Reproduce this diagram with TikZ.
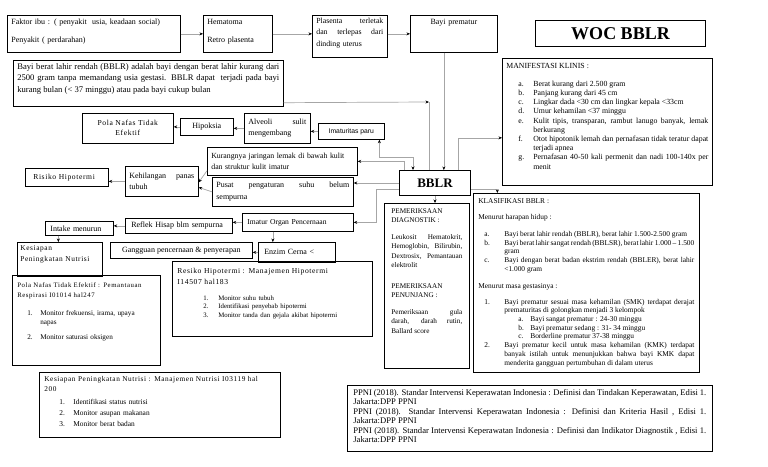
\documentclass[tikz,border=0pt]{standalone}
\usepackage{fontspec}
\setmainfont{Liberation Serif}
\setsansfont{Liberation Sans}
\newfontfamily\spacedfont[LetterSpace=8]{Liberation Serif}
\usetikzlibrary{arrows.meta}
\hyphenpenalty=10000
\exhyphenpenalty=10000
\tolerance=9999
\emergencystretch=10pt
% list line with hanging label
\newcommand{\wocitem}[3]{\par\leftskip=#2\noindent\hspace*{-#2}\hbox to #2{\hspace*{#1}#3\hfil}\ignorespaces}

\begin{document}
\begin{tikzpicture}[x=1pt, y=-1pt,
  box/.style={draw, line width=0.7pt, anchor=north west, inner sep=0pt,
    font=\fontsize{8}{9.5}\selectfont},
  tbox/.style={box, inner xsep=4pt, align=left},
  conn/.style={draw=gray!70, line width=0.7pt,
    -{Stealth[black, length=3.5pt, width=3pt]}},
  dconn/.style={conn, {Stealth[black, length=3.5pt, width=3pt]}-{Stealth[black, length=3.5pt, width=3pt]}},
  spaced/.style={font=\spacedfont\fontsize{7.6}{10}\selectfont}]
  \path[use as bounding box, fill=white] (0,0) rectangle (768,466);

  % top row
  \node[tbox, text width=165, text height=9, text depth=28] (faktor) at (7,15)
    {Faktor ibu : ( penyakit\ \ usia, keadaan social)\\[9pt]Penyakit ( perdarahan)};
  \node[tbox, text width=61, text height=9, text depth=28] (hemat) at (203,15)
    {Hematoma\\[9pt]Retro plasenta};
  \node[tbox, text width=67, text height=8, text depth=34,
    font=\fontsize{7.8}{11.5}\selectfont] (plas) at (312,15)
    {Plasenta\hfill terletak\\dan\hfill terlepas\hfill dari\\dinding uterus};
  \node[box, inner xsep=3pt, text width=81, align=center, text height=9, text depth=28] (prem) at (410,15)
    {Bayi prematur};
  \node[box, line width=1pt, minimum width=170, minimum height=26,
    font=\bfseries\fontsize{18}{20}\selectfont] (woc) at (535,20) {WOC BBLR};

  \node[tbox, align=justify, text width=262, text height=9, text depth=37,
    font=\fontsize{8.6}{11.5}\selectfont] (def) at (13,60)
    {Bayi berat lahir rendah (BBLR) adalah bayi dengan berat lahir kurang dari\linebreak 2500 gram tanpa memandang usia gestasi. BBLR dapat\ \ terjadi pada bayi\linebreak kurang bulan (< 37 minggu) atau pada bayi cukup bulan};

  \node[tbox, align=justify, text width=202, text height=10, text depth=117,
    font=\fontsize{7.8}{9.2}\selectfont] (manif) at (502,58)
    {MANIFESTASI KLINIS :\par\vspace{8.8pt}
     \wocitem{12pt}{27pt}{a.}Berat kurang dari 2.500 gram
     \wocitem{12pt}{27pt}{b.}Panjang kurang dari 45 cm
     \wocitem{12pt}{27pt}{c.}Lingkar dada <30 cm dan lingkar kepala <33cm
     \wocitem{12pt}{27pt}{d.}Umur kehamilan <37 minggu
     \wocitem{12pt}{27pt}{e.}Kulit tipis, transparan, rambut lanugo banyak, lemak berkurang
     \wocitem{12pt}{27pt}{f.}Otot hipotonik lemah dan pernafasan tidak teratur dapat terjadi apnea
     \wocitem{12pt}{27pt}{g.}Pernafasan 40-50 kali permenit dan nadi 100-140x per menit\par};

  % left branch
  \node[box, spaced, minimum width=91, minimum height=30, align=center] (pola) at (82,113)
    {Pola Nafas Tidak\\Efektif};
  \node[box, minimum width=53, minimum height=17] (hipok) at (180,118) {Hipoksia};
  \node[tbox, text width=58, minimum height=30, font=\fontsize{8}{11}\selectfont] (alv) at (244,113)
    {Alveoli\hfill sulit\\mengembang};
  \node[box, minimum width=66, minimum height=16, font=\sffamily\fontsize{6.8}{8}\selectfont] (imat) at (318,123)
    {Imaturitas paru};
  \node[tbox, text width=142, minimum height=28, font=\fontsize{7.8}{11}\selectfont] (kurang) at (207,147)
    {Kurangnya jaringan lemak di bawah kulit\\dan struktur kulit imatur};
  \node[tbox, text width=133, minimum height=29, font=\fontsize{8}{12}\selectfont] (pusat) at (212,177)
    {Pusat\hfill pengaturan\hfill suhu\hfill belum\\sempurna};
  \node[tbox, text width=65, minimum height=30, font=\fontsize{8}{11}\selectfont] (kehil) at (125,166)
    {Kehilangan\hfill panas\\tubuh};
  \node[tbox, spaced, inner xsep=8pt, text width=67, minimum height=18] (risiko) at (25,168)
    {Risiko Hipotermi};
  \node[box, line width=1pt, minimum width=71, minimum height=25,
    font=\bfseries\fontsize{13}{15}\selectfont] (bblr) at (399,170) {BBLR};

  \node[tbox, inner xsep=5pt, text width=101, minimum height=18, font=\fontsize{7.6}{9}\selectfont] (imorg) at (242,213)
    {Imatur Organ Pencernaan};
  \node[tbox, inner xsep=6pt, text width=95, minimum height=15] (reflek) at (125,218)
    {Reflek Hisap blm sempurna};
  \node[tbox, inner xsep=5pt, text width=58, minimum height=14] (intake) at (45,221)
    {Intake menurun};
  \node[tbox, spaced, inner xsep=3pt, text width=79, text height=8, text depth=26,
    font=\spacedfont\fontsize{7.4}{11}\selectfont] (kesiap) at (17,242)
    {Kesiapan\\Peningkatan Nutrisi};
  \node[box, minimum width=142, minimum height=16] (gangg) at (110,242)
    {Gangguan pencernaan \& penyerapan};
  \node[tbox, inner xsep=6pt, text width=65, minimum height=20] (enzim) at (258,242)
    {Enzim Cerna <};

  % intervensi
  \node[tbox, inner xsep=5pt, text width=190, text height=12, text depth=63,
    font=\spacedfont\fontsize{7.6}{11}\selectfont] (resiko) at (172,261)
    {Resiko Hipotermi : Manajemen Hipotermi\newline I14507 hal183
     \par\rmfamily\fontsize{6.8}{8.5}\selectfont\vspace{7.5pt}
     \wocitem{26pt}{41pt}{1.}Monitor suhu tubuh
     \wocitem{26pt}{41pt}{2.}Identifikasi penyebab hipotermi
     \wocitem{26pt}{41pt}{3.}Monitor tanda dan gejala akibat hipotermi\par};
  \node[tbox, inner xsep=5pt, text width=138, text height=12, text depth=78,
    font=\spacedfont\fontsize{6.8}{10}\selectfont] (polaint) at (12,275)
    {Pola Nafas Tidak Efektif : Pemantauan\newline Respirasi I01014 hal247
     \par\rmfamily\fontsize{7.2}{9}\selectfont\vspace{9pt}
     \wocitem{10pt}{23pt}{1.}Monitor frekuensi, irama, upaya\newline napas
     \par\vspace{6pt}
     \wocitem{10pt}{23pt}{2.}Monitor saturasi oksigen\par};
  \node[tbox, inner xsep=5pt, text width=231, text height=9, text depth=56,
    font=\spacedfont\fontsize{7.3}{10}\selectfont] (nutri) at (39,372)
    {Kesiapan Peningkatan Nutrisi : Manajemen Nutrisi I03119 hal\newline 200
     \par\rmfamily\fontsize{7.4}{11}\selectfont\vspace{2pt}
     \wocitem{15pt}{29pt}{1.}Identifikasi status nutrisi
     \wocitem{15pt}{29pt}{2.}Monitor asupan makanan
     \wocitem{15pt}{29pt}{3.}Monitor berat badan\par};

  % pemeriksaan dan klasifikasi
  \node[tbox, align=justify, inner xsep=7pt, text width=71, text height=10, text depth=155,
    font=\fontsize{7.2}{9.4}\selectfont] (periksa) at (384,203)
    {PEMERIKSAAN\newline DIAGNOSTIK :\par\vspace{7.2pt}
     Leukosit\ \ Hematokrit,\linebreak Hemoglobin, Bilirubin,\linebreak Dextrosix, Pemantauan\linebreak elektrolit
     \par\vspace{11.4pt}
     PEMERIKSAAN\newline PENUNJANG :\par\vspace{7.2pt}
     Pemeriksaan\ \ gula\linebreak darah, darah rutin,\linebreak Ballard score};
  \node[tbox, align=justify, inner xsep=5pt, text width=216, text height=10, text depth=169,
    font=\fontsize{7.4}{8.7}\selectfont] (klas) at (473,193)
    {KLASIFIKASI BBLR :\par\vspace{7.3pt}
     Menurut harapan hidup :\par\vspace{8.3pt}
     \wocitem{6pt}{26pt}{a.}Bayi berat lahir rendah (BBLR), berat lahir 1.500-2.500 gram
     \wocitem{6pt}{26pt}{b.}Bayi berat lahir sangat rendah (BBLSR), berat lahir 1.000 -- 1.500 gram
     \wocitem{6pt}{26pt}{c.}Bayi dengan berat badan ekstrim rendah (BBLER), berat lahir <1.000 gram
     \par\leftskip=0pt\vspace{8.3pt}
     Menurut masa gestasinya :\par\vspace{7.3pt}
     \wocitem{6pt}{26pt}{1.}Bayi prematur sesuai masa kehamilan (SMK) terdapat derajat prematuritas di golongkan menjadi 3 kelompok
     \wocitem{40pt}{52pt}{a.}Bayi sangat prematur : 24-30 minggu
     \wocitem{40pt}{52pt}{b.}Bayi prematur sedang : 31- 34 minggu
     \wocitem{40pt}{52pt}{c.}Borderline prematur 37-38 minggu
     \wocitem{6pt}{26pt}{2.}Bayi prematur kecil untuk masa kehamilan (KMK) terdapat banyak istilah untuk menunjukkan bahwa bayi KMK dapat menderita gangguan pertumbuhan di dalam uterus\par};
  \node[tbox, align=justify, inner xsep=6pt, text width=353, text height=10, text depth=56,
    font=\fontsize{8.6}{9.5}\selectfont] (ref) at (347,385)
    {PPNI (2018). Standar Intervensi Keperawatan Indonesia : Definisi dan Tindakan Keperawatan, Edisi~1.\linebreak Jakarta:DPP~PPNI\par
     PPNI (2018). Standar Intervensi Keperawatan Indonesia : Definisi dan Kriteria Hasil , Edisi~1.\linebreak Jakarta:DPP~PPNI\par
     PPNI (2018). Standar Intervensi Keperawatan Indonesia : Definisi dan Indikator Diagnostik , Edisi~1.\linebreak Jakarta:DPP~PPNI};

  % connectors
  \coordinate (kdef) at (429,102);
  \coordinate (kprem) at ([xshift=-10]prem.south);
  \coordinate (kimo) at ([xshift=-25]imorg.south);
  \coordinate (kint) at ([xshift=-21]intake.south);
  \draw[conn] (faktor.east) -- (faktor.east -| hemat.west);
  \draw[conn] (hemat.east) -- (hemat.east -| plas.west);
  \draw[conn] (plas.east |- hemat.east) -- (hemat.east -| prem.west);
  \draw[conn] (kprem) -- (kprem |- bblr.north);
  \draw[conn] ([yshift=4]def.south east) -- (kdef);
  \draw[draw=gray!70, line width=0.7pt] (kdef) -- (kdef |- bblr.north);
  \draw[conn] ([xshift=23]bblr.north) |- ([yshift=-16]manif.west);
  \draw[dconn] ([xshift=28]imat.south) -- ++(0,18) -| ([xshift=-22]bblr.north);
  \draw[conn] ([xshift=-31]bblr.north) |- (kurang.east);
  \draw[conn] (bblr.west) -- (bblr.west -| pusat.east);
  \draw[conn] ([yshift=-6]bblr.west) -- ++(-23,0) |- (imorg.east);
  \draw[conn] ([yshift=-6]bblr.east) -| ([xshift=-89]klas.north);
  \draw[conn] (bblr.south) -- (bblr.south |- periksa.north);
  \draw[conn] (imat.west) -- (imat.west -| alv.east);
  \draw[conn] (alv.west) -- (alv.west -| hipok.east);
  \draw[conn] (hipok.west) -- (hipok.west -| pola.east);
  \draw[conn] ([yshift=5]kurang.south west) -- ([yshift=-1]kehil.east);
  \draw[conn] (pusat.west) -- ([yshift=-6]kehil.east);
  \draw[conn] (kehil.west) -- (kehil.west -| risiko.east);
  \draw[conn] (imorg.west) -- (imorg.west -| reflek.east);
  \draw[conn] (reflek.west) -- (reflek.west -| intake.east);
  \draw[conn] (kint) -- (kint |- kesiap.north);
  \draw[conn] (kimo) -- (kimo |- enzim.north);
  \draw[conn] (enzim.west) -- (enzim.west -| gangg.east);
\end{tikzpicture}
\end{document}
